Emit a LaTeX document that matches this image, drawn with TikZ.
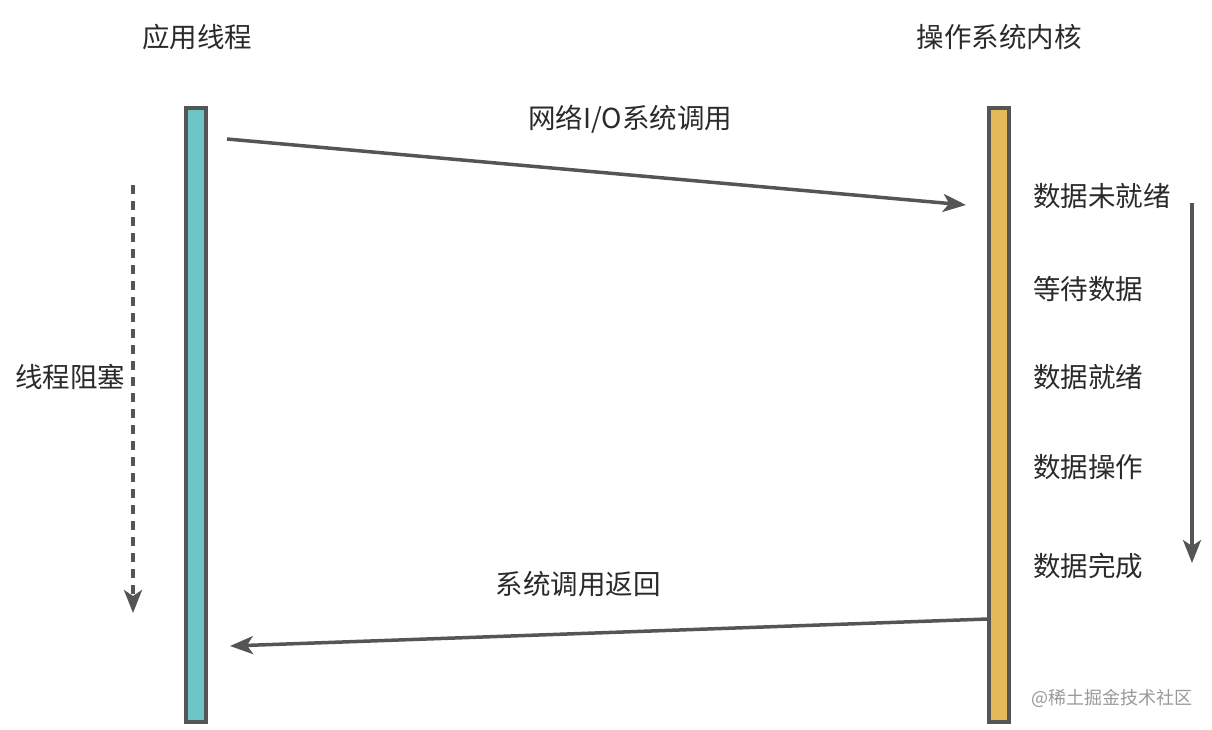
\documentclass[tikz,border=0pt]{standalone}
\usepackage{fontspec}
\setmainfont{Noto Sans CJK SC}
\usetikzlibrary{arrows.meta}
\definecolor{edge}{HTML}{555555}
\definecolor{tealbar}{HTML}{6CC4C4}
\definecolor{goldbar}{HTML}{E3B95A}
\definecolor{txt}{HTML}{2A2A2A}
\tikzset{
  bar/.style={draw=edge, line width=3.5pt},
  lbl/.style={font=\fontsize{27.5}{32}\selectfont, text=txt, inner sep=0pt},
  conn/.style={draw=edge, line width=3.5pt, -{Stealth[length=23pt,width=18pt,inset=6pt]}},
}
\begin{document}
\begin{tikzpicture}[x=1pt,y=-1pt]
\useasboundingbox (0,0) rectangle (1212,730);
% bars
\draw[bar, fill=tealbar] (186,108) rectangle (206,722);
\draw[bar, fill=goldbar] (989,108) rectangle (1009,722);
% headers
\node[lbl] (h1) at (197,37) {应用线程};
\node[lbl] (h2) at (999,37) {操作系统内核};
% coordinates for arrows
\coordinate (a1s) at (227,139);
\coordinate (a1e) at (966,205);
\coordinate (a2s) at (988,619);
\coordinate (a2e) at (230,646);
\coordinate (d1s) at (133,185);
\coordinate (d1e) at (133,613);
\coordinate (r1s) at (1192,203);
\coordinate (r1e) at (1192,563);
\draw[conn] (a1s) -- (a1e);
\draw[conn] (a2s) -- (a2e);
\draw[conn, dash pattern=on 9pt off 7pt] (d1s) -- (d1e);
\draw[conn] (r1s) -- (r1e);
% labels
\node[lbl] (t1) at (630,119) {网络I/O系统调用};
\node[lbl] (t2) at (578,584) {系统调用返回};
\node[lbl] (t3) at (70,377) {线程阻塞};
\node[lbl, anchor=west] (s1) at (1033,196) {数据未就绪};
\node[lbl, anchor=west] (s2) at (1033,289) {等待数据};
\node[lbl, anchor=west] (s3) at (1033,377) {数据就绪};
\node[lbl, anchor=west] (s4) at (1033,467) {数据操作};
\node[lbl, anchor=west] (s5) at (1033,566) {数据完成};
\node[font=\fontsize{18}{20}\selectfont, text=black!40, anchor=west, inner sep=0pt] (wm) at (1031,698) {@稀土掘金技术社区};
\end{tikzpicture}
\end{document}
